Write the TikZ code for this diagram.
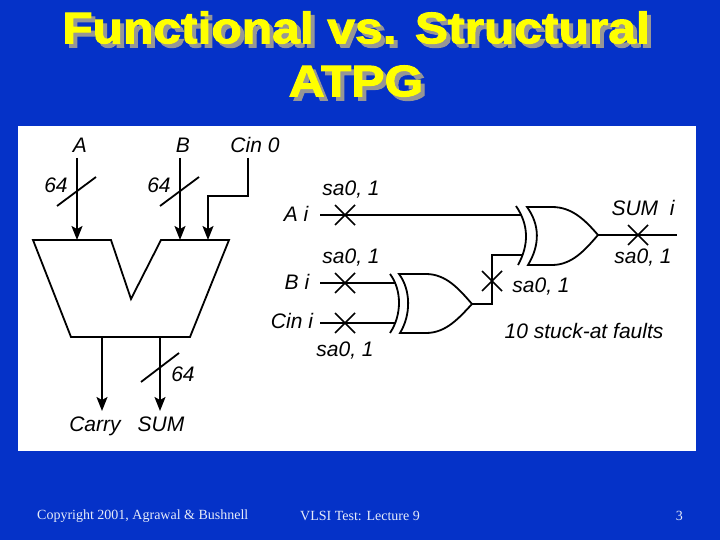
\documentclass[tikz,border=0pt]{standalone}
\usepackage{fontspec}
\setmainfont{Liberation Sans}
\newfontfamily\titlefont[FakeBold=2.4,FakeStretch=1.13]{Liberation Sans Bold}
\newfontfamily\footfont{Liberation Serif}
\usetikzlibrary{arrows.meta,shapes.misc}
\definecolor{slideblue}{RGB}{5,50,200}
\definecolor{titlegray}{RGB}{150,150,150}
\definecolor{titleyellow}{RGB}{255,255,0}
\tikzset{
	lbl/.style={font=\fontsize{21}{24}\selectfont\itshape,text=black,inner sep=0pt},
	wire/.style={line width=1.8pt,black},
	faultx/.style={cross out,draw=black,line width=1.7pt,minimum size=20pt,inner sep=0pt,outer sep=0pt},
	foot/.style={font=\fontsize{14}{16}\selectfont\footfont,text=white!90!slideblue,inner sep=0pt},
	titletext/.style={font=\fontsize{44}{53}\selectfont\titlefont,align=center,inner sep=0pt}
}
\begin{document}
\begin{tikzpicture}[>={Stealth[length=14pt,width=11pt,inset=3pt]},x=1pt,y=-1pt]
	\useasboundingbox (0,0) rectangle (720,540);
	%Nen
	\fill[slideblue] (0,0) rectangle (720,540);
	\fill[white] (18,126) rectangle (696,451);
	%Tieu de
	\node[titletext,text=titlegray] (titleshadow) at (360,58) {Functional vs. Structural\\ATPG};
	\node[titletext,text=titleyellow] (title) at (356,54) {Functional vs. Structural\\ATPG};
	%Khoi cong
	\draw[wire,line join=miter] (33,240)--(111,240)--(131,299)--(161,240)--(229,240)--(190,337)--(71,337)--cycle;
	%Nhan vao
	\node[lbl] (lblA) at (80,145) {A};
	\node[lbl] (lblB) at (183,145) {B};
	\node[lbl] (lblCin) at (255,145) {Cin 0};
	\node[lbl] (bitsA) at (56,185) {64};
	\node[lbl] (bitsB) at (159,185) {64};
	%Mui ten vao
	\coordinate (topA) at (77,158);
	\coordinate (inA) at (77,240);
	\coordinate (topB) at (180,158);
	\coordinate (inB) at (180,240);
	\coordinate (topCin) at (248,158);
	\coordinate (inCin) at (208,240);
	\draw[wire,->] (topA)--(inA);
	\draw[wire,->] (topB)--(inB);
	\draw[wire,->] (topCin)--(248,196)--(208,196)--(inCin);
	%Gach 64
	\draw[wire] (57,206)--(96,177);
	\draw[wire] (160,206)--(199,177);
	\draw[wire] (141,382)--(179,353);
	%Mui ten ra
	\coordinate (outCarry) at (102,337);
	\coordinate (endCarry) at (102,411);
	\coordinate (outSum) at (160,337);
	\coordinate (endSum) at (160,411);
	\draw[wire,->] (outCarry)--(endCarry);
	\draw[wire,->] (outSum)--(endSum);
	%Nhan ra
	\node[lbl] (bitsSum) at (183,374) {64};
	\node[lbl,anchor=base] (lblCarry) at (95,431) {Carry};
	\node[lbl,anchor=base] (lblSum) at (161,431) {SUM};
	%Cong XOR 1
	\draw[wire] (516,206) .. controls (529,225) and (529,245) .. (518,265);
	\draw[wire] (527,207) .. controls (540,225) and (540,245) .. (528,265) -- (552,265)
		.. controls (572,265) and (585,250) .. (598,235)
		.. controls (585,220) and (572,207) .. (552,207) -- cycle;
	%Cong XOR 2
	\draw[wire] (390,274) .. controls (402,290) and (402,315) .. (390,333);
	\draw[wire] (399,274) .. controls (411,290) and (411,315) .. (400,333) -- (426,333)
		.. controls (446,333) and (459,318) .. (472,304)
		.. controls (459,289) and (446,274) .. (426,274) -- cycle;
	%Day
	\coordinate (leftA) at (320,215);
	\coordinate (pinA) at (522,215);
	\coordinate (leftB) at (320,283);
	\coordinate (pinB) at (396,283);
	\coordinate (leftC) at (320,323);
	\coordinate (pinC) at (396,323);
	\coordinate (outX2) at (472,304);
	\coordinate (pinX1) at (522,255);
	\coordinate (outX1) at (598,235);
	\coordinate (rightS) at (677,235);
	\draw[wire] (leftA)--(pinA);
	\draw[wire] (leftB)--(pinB);
	\draw[wire] (leftC)--(pinC);
	\draw[wire] (outX2)--(492,304)--(492,255)--(pinX1);
	\draw[wire] (outX1)--(rightS);
	%Loi
	\node[faultx] (faultA) at (345,215) {};
	\node[faultx] (faultB) at (345,283) {};
	\node[faultx] (faultC) at (345,323) {};
	\node[faultx] (faultM) at (492,281) {};
	\node[faultx] (faultS) at (638,235) {};
	%Nhan mach
	\node[lbl] (lblAi) at (296,214) {A i};
	\node[lbl] (lblBi) at (297,282) {B i};
	\node[lbl] (lblCi) at (292,321) {Cin i};
	\node[lbl] (lblSi) at (643,208) {SUM\ \ i};
	\node[lbl] (saA) at (351,190) {sa0, 1};
	\node[lbl] (saB) at (351,258) {sa0, 1};
	\node[lbl] (saC) at (345,351) {sa0, 1};
	\node[lbl] (saM) at (541,287) {sa0, 1};
	\node[lbl] (saS) at (643,258) {sa0, 1};
	\node[lbl] (nfaults) at (584,331) {10 stuck-at faults};
	%Chan trang
	\node[foot,anchor=west] (footL) at (37,516) {Copyright 2001, Agrawal \& Bushnell};
	\node[foot] (footM) at (360,516) {VLSI Test: Lecture 9};
	\node[foot,anchor=east] (footR) at (683,516) {3};
\end{tikzpicture}
\end{document}
